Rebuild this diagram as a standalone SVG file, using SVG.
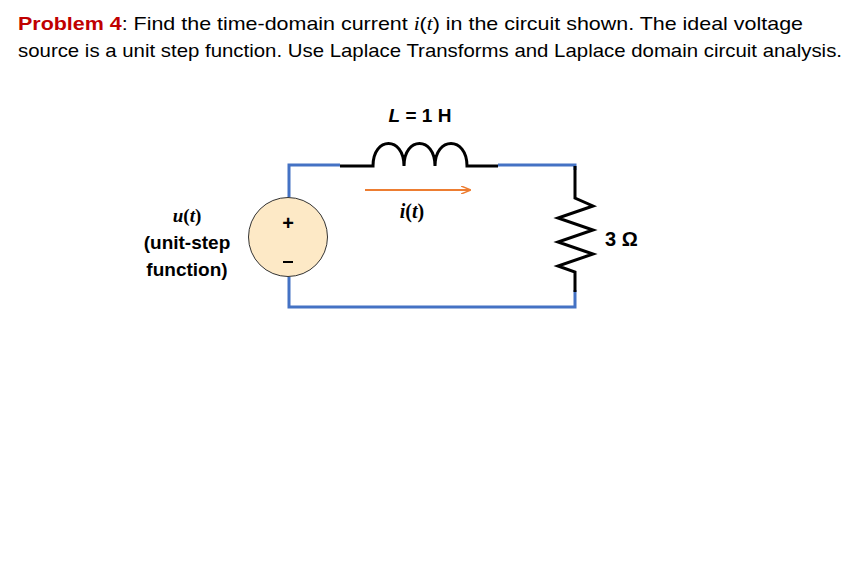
<svg xmlns="http://www.w3.org/2000/svg" width="847" height="575" viewBox="0 0 847 575">
<style>
text{font-family:"Liberation Sans",Arial,sans-serif;fill:#000}
.t{font-size:19px}
.b{font-weight:bold;font-size:19px}
.m{font-family:"Liberation Serif","DejaVu Serif",serif;font-style:italic}
.w{stroke:#4472c4;stroke-width:3;fill:none}
.k{stroke:#000;stroke-width:3;fill:none}
</style>
<defs><marker id="ar" markerWidth="10" markerHeight="8" refX="9" refY="4" orient="auto" markerUnits="userSpaceOnUse"><path d="M0,0 L10,4 L0,8" fill="none" stroke="#ed7d31" stroke-width="1.5"/></marker></defs>
<rect width="847" height="575" fill="#fff"/>
<text class="t" x="18" y="30" textLength="785" lengthAdjust="spacingAndGlyphs"><tspan fill="#c00000" font-weight="bold" style="fill:#c00000">Problem 4</tspan>:   Find the time-domain current <tspan class="m">i</tspan>(<tspan class="m">t</tspan>) in the circuit shown.  The ideal voltage</text>
<text class="t" x="18" y="57" textLength="824" lengthAdjust="spacingAndGlyphs">source is a unit step function.  Use Laplace Transforms and Laplace domain circuit analysis.</text>
<g id="connectors">
<path class="w" d="M289,197 V165 H340"/>
<path class="w" d="M498,165 H575 V170"/>
<path class="w" d="M289,277 V307 H575 V290"/>
<line x1="365" y1="190" x2="470" y2="190" stroke="#ed7d31" stroke-width="2" marker-end="url(#ar)"/>
</g>
<g id="source">
<circle cx="288" cy="237" r="39.5" fill="#fde9c6" stroke="#333" stroke-width="1"/>
<text x="288" y="230" text-anchor="middle" font-size="20" font-weight="bold">+</text>
<line x1="283" y1="262" x2="293" y2="262" stroke="#000" stroke-width="2"/>
</g>
<g id="inductor">
<path class="k" d="M340,166 H373 C373,136 404,136 404,166 C404,136 435,136 435,166 C435,136 467,136 467,166 H498"/>
<text x="420" y="122" text-anchor="middle" font-size="19" font-weight="bold"><tspan font-style="italic">L</tspan> = 1 H</text>
<text x="412" y="218" text-anchor="middle" font-size="20" font-weight="bold" class="m" style="font-style:normal"><tspan font-style="italic">i</tspan>(<tspan font-style="italic">t</tspan>)</text>
</g>
<g id="resistor">
<path class="k" d="M575,166 V198 L593,206 L558,218 L593,230 L558,242 L593,254 L558,266 L575,272 V292"/>
<text x="605" y="246" font-size="20" font-weight="bold">3 Ω</text>
</g>
<g id="label">
<text x="187" y="222" text-anchor="middle" font-size="19" font-weight="bold" class="m" style="font-style:normal"><tspan font-style="italic">u</tspan>(<tspan font-style="italic">t</tspan>)</text>
<text x="187" y="249" text-anchor="middle" font-size="19" font-weight="bold">(unit-step</text>
<text x="187" y="276" text-anchor="middle" font-size="19" font-weight="bold">function)</text>
</g>
</svg>
